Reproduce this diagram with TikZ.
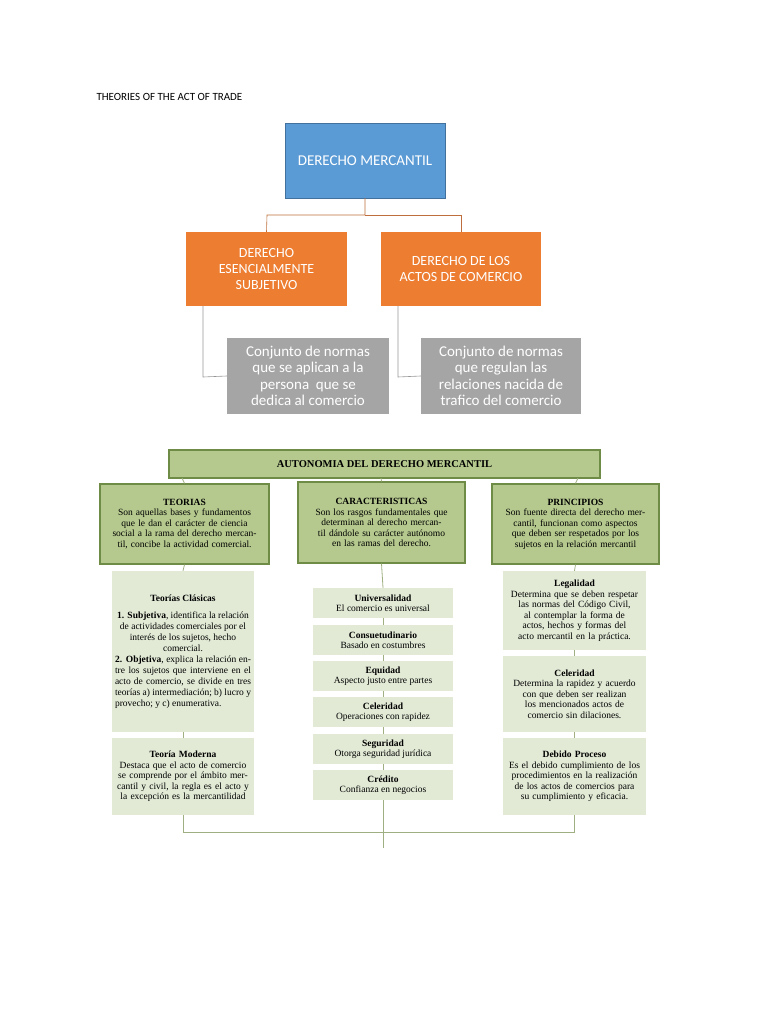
\documentclass[tikz,border=0pt]{standalone}
\usepackage{fontspec}
\setmainfont{Liberation Serif}
\newfontfamily\calib{Carlito}
\begin{document}
\begin{tikzpicture}[x=1pt,y=-1pt,
 base/.style={inner sep=2pt,align=center,font=\fontsize{9.5}{10.5}\selectfont},
 blue/.style={base,fill={rgb,255:red,91;green,155;blue,213},draw={rgb,255:red,65;green,113;blue,156},text=white,font=\calib\fontsize{15}{17}\selectfont},
 orng/.style={base,fill={rgb,255:red,237;green,125;blue,49},text=white,font=\calib\fontsize{14}{16}\selectfont},
 gray/.style={base,fill={rgb,255:red,165;green,165;blue,165},text=white,font=\calib\fontsize{15}{16.5}\selectfont},
 gbox/.style={base,fill={rgb,255:red,181;green,201;blue,142},draw={rgb,255:red,110;green,140;blue,70},line width=1.3pt},
 lbox/.style={base,fill={rgb,255:red,226;green,234;blue,214}},
 ln/.style={draw={rgb,255:red,160;green,175;blue,130},line width=0.8pt},
 on/.style={draw={rgb,255:red,190;green,110;blue,60},line width=0.6pt},
 gn/.style={draw={rgb,255:red,150;green,150;blue,150},line width=0.6pt}]
\useasboundingbox (0,0) rectangle (768,1024);
\node[anchor=west,font=\calib\fontsize{11}{13}\selectfont] (title) at (93,97) {THEORIES OF THE ACT OF TRADE};
\node[blue,minimum width=160,minimum height=75] (dm) at (365,160.5) {DERECHO MERCANTIL};
\node[orng,minimum width=161,minimum height=74] (o1) at (266.5,269) {DERECHO\\ESENCIALMENTE\\SUBJETIVO};
\node[orng,minimum width=160,minimum height=74] (o2) at (461,269) {DERECHO DE LOS\\ACTOS DE COMERCIO};
\node[gray,minimum width=162,minimum height=76] (g1) at (308,376) {Conjunto de normas\\que se aplican a la\\persona\ \ que se\\dedica al comercio};
\node[gray,minimum width=160,minimum height=76] (g2) at (501,376) {Conjunto de normas\\que regulan las\\relaciones nacida de\\trafico del comercio};
\draw[on] (dm.south) -- (365,215) -- (267,215) -- (o1.north);
\draw[on] (365,215) -- (461,215) -- (o2.north);
\draw[gn] (203,306) -- (203,377) -- (g1.west);
\draw[gn] (398,306) -- (398,377) -- (g2.west);

\node[gbox,minimum width=431,minimum height=28,font=\bfseries\fontsize{10.5}{12}\selectfont] (aut) at (384.5,464) {AUTONOMIA DEL DERECHO MERCANTIL};
\node[gbox,minimum width=169,minimum height=80,text width=160] (teo) at (184.5,524) {\textbf{TEORIAS}\\Son aquellas bases y fundamentos que le dan el carácter de ciencia social a la rama del derecho mercantil, concibe la actividad comercial.};
\node[gbox,minimum width=167,minimum height=81,text width=158] (car) at (381.5,522.5) {\textbf{CARACTERISTICAS}\\Son los rasgos fundamentales que determinan al derecho mercantil dándole su carácter autónomo en las ramas del derecho.};
\node[gbox,minimum width=167,minimum height=80,text width=160] (pri) at (575.5,524) {\textbf{PRINCIPIOS}\\Son fuente directa del derecho mercantil, funcionan como aspectos que deben ser respetados por los sujetos en la relación mercantil};
\draw[ln] (182,478) -- (teo.north);
\draw[ln] (381,478) -- (car.north);
\draw[ln] (578,478) -- (pri.north);

\node[lbox,minimum width=142,minimum height=161,text width=136,align=justify,font=\fontsize{9.5}{11}\selectfont] (tc) at (183,651.5) {\centering\textbf{Teorías Clásicas}\par\vspace{6pt}\textbf{1. Subjetiva}, identifica la relación de actividades comerciales por el interés de los sujetos, hecho comercial.\\ \textbf{2. Objetiva}, explica la relación entre los sujetos que interviene en el acto de comercio, se divide en tres teorías a) intermediación; b) lucro y provecho; y c) enumerativa.};
\node[lbox,minimum width=142,minimum height=77,text width=136] (tm) at (183,776.5) {\textbf{Teoría Moderna}\\Destaca que el acto de comercio se comprende por el ámbito mercantil y civil, la regla es el acto y la excepción es la mercantilidad};

\foreach \n/\t/\s/\y in {u/Universalidad/El comercio es universal/603,c1/Consuetudinario/Basado en costumbres/640,e/Equidad/Aspecto justo entre partes/676,c2/Celeridad/Operaciones con rapidez/712,s/Seguridad/Otorga seguridad jurídica/749,cr/Crédito/Confianza en negocios/785}
  \node[lbox,minimum width=140,minimum height=30] (\n) at (383,\y) {\textbf{\t}\\\s};

\node[lbox,minimum width=143,minimum height=79,text width=138] (le) at (574.5,610.5) {\textbf{Legalidad}\\Determina que se deben respetar las normas del Código Civil, al contemplar la forma de actos, hechos y formas del acto mercantil en la práctica.};
\node[lbox,minimum width=143,minimum height=76,text width=138] (ce) at (574.5,694) {\textbf{Celeridad}\\Determina la rapidez y acuerdo con que deben ser realizan los mencionados actos de comercio sin dilaciones.};
\node[lbox,minimum width=143,minimum height=77,text width=138] (dp) at (574.5,776.5) {\textbf{Debido Proceso}\\Es el debido cumplimiento de los procedimientos en la realización de los actos de comercios para su cumplimiento y eficacia.};

\draw[ln] (teo.south) -- (tc.north);
\draw[ln] (tc.south) -- (tm.north);
\draw[ln] (car.south) -- (u.north);
\draw[ln] (u.south) -- (c1.north);
\draw[ln] (c1.south) -- (e.north);
\draw[ln] (e.south) -- (c2.north);
\draw[ln] (c2.south) -- (s.north);
\draw[ln] (s.south) -- (cr.north);
\draw[ln] (pri.south) -- (le.north);
\draw[ln] (le.south) -- (ce.north);
\draw[ln] (ce.south) -- (dp.north);
\coordinate (bot) at (383,848);
\draw[ln] (tm.south) -- (183,832) -- (574.5,832) -- (dp.south);
\draw[ln] (cr.south) -- (bot);
\end{tikzpicture}
\end{document}
